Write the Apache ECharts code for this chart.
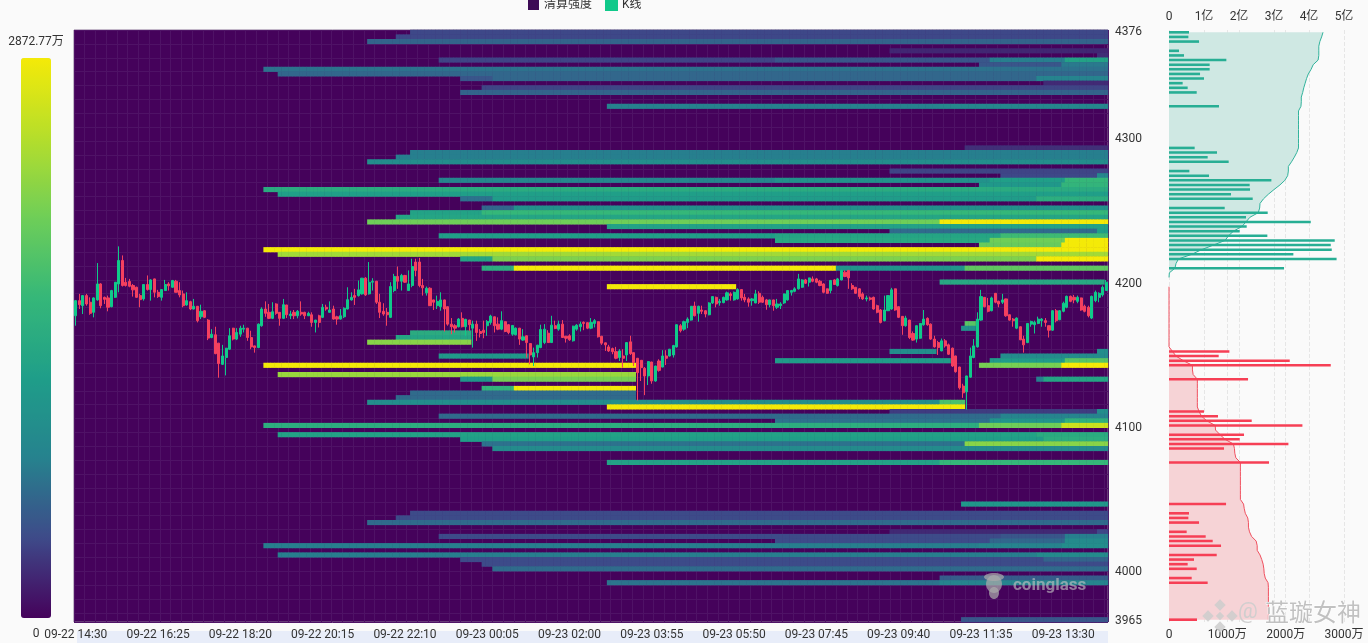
<!DOCTYPE html>
<html>
<head>
<meta charset="utf-8">
<style>html,body{margin:0;padding:0;background:#fafafa}#c{width:1368px;height:643px}</style>
<script src="https://cdn.jsdelivr.net/npm/echarts@6/dist/echarts.min.js"></script>
</head>
<body>
<div id="c"></div>
<script>
// price-ladder (row 0 is the top of the ladder, 128 rows)
const rowCount = 128;
const columnCount = 289;
const priceTicks = [3965, 4000, 4100, 4200, 4300, 4376];

// row, last column, then (first column, value in 万) pairs for each run of that row
const heatBands = [
[0,289,94,400],[1,289,90,400],[2,289,82,600],[4,289,228,210],[5,289,286,250],
[6,289,102,380,196,500,256,800,277,1300],[7,289,253,500,276,760],[8,289,53,700],[9,289,57,620],
[10,289,108,500,117,620,269,850],[11,289,271,230],[12,289,114,380],[13,289,108,600],[16,289,149,820,242,900],
[25,289,249,260],[26,289,94,800],[27,289,90,800],[28,289,82,1000],[30,289,228,380],[31,289,259,400,286,900],
[32,289,102,900,196,1050,256,1250,277,1640],[33,289,253,1150,276,1600],[34,289,53,1450],[35,289,57,1250],
[36,289,108,700,117,1200,269,1500],[38,289,114,620,123,1050],[39,289,94,1300,114,1640],[40,289,90,1350],
[41,289,82,2050,242,2872],[42,289,149,1300],[43,289,228,650,286,1250],[44,289,102,1250,196,1350,259,1700],
[45,289,196,1400,256,2050,277,2872],[46,289,253,2000,276,2872],[47,289,53,2872],[48,289,57,2350],
[49,289,108,1350,117,2150,269,2872],[51,289,114,1500,123,2872,213,1100,249,1950],
[54,288,242,1400],[55,185,149,2872],
[63,252,249,1900],[64,252,248,1050],[65,111,94,1450],[66,111,90,1350],[67,111,82,2200],
[69,241,228,1000],[69,289,286,1000],[70,127,102,1150],[70,289,259,950],
[71,245,196,1200],[71,289,256,1200,277,1900],[72,157,53,2872],[72,289,253,2100,276,2872],
[74,157,57,2300],[75,157,108,1150,117,2100],[75,289,269,800,271,1350],[77,157,114,1600,123,2872],
[78,157,94,650],[79,157,90,650],[80,249,82,1000,242,1800],[81,249,149,2872],
[82,289,228,330,286,1000],[83,289,102,650,259,850],[84,289,196,700,256,1100,277,1550],
[85,289,53,1500,253,2050,276,2600],[87,289,57,1300,269,1450],[88,289,108,1250,271,1500],
[89,289,114,700,249,2200],[90,289,117,950],[93,289,149,1300,242,1640],[102,289,248,1150],
[104,289,94,420],[105,289,90,420],[106,289,82,650],[108,289,228,220,286,400],[109,289,102,420,259,500,277,800],
[110,289,196,420,256,620,277,950],[111,289,53,800,253,850,276,1000],[113,289,57,800,269,950],
[114,289,108,420,271,600],[115,289,114,420],[116,289,117,650],[118,289,242,550],[119,289,149,720,242,850],
[127,289,248,500]
];

// open, close, low, high
const candles = [
[4177.6,4188.1,4170.7,4188.6],[4188.1,4185.3,4182.3,4192.8],[4184.6,4191.6,4178.8,4192],[4191.6,4185.8,4184.6,4192.8],[4187,4179.3,4178.3,4190.4],[4180,4190,4176.5,4190.4],[4188.6,4199.7,4188.1,4214.2],[4199.7,4184.6,4182.8,4200.2],[4190.4,4189,4185.8,4190.9],[4190,4183.5,4180.7,4191.6],
[4183.9,4195.1,4183.5,4195.6],[4190.4,4200.9,4190,4201],[4199.7,4216,4193.9,4225.8],[4216,4198.6,4197.9,4219.5],[4200.9,4198.6,4197.9,4203.9],[4201.4,4198.1,4197.4,4203.2],[4198.6,4195.6,4190.9,4199.7],[4197.4,4190.4,4190,4197.8],[4191.6,4188.8,4183.5,4192.8],[4189.3,4199.3,4188.1,4199.5],
[4199.3,4195.8,4195.1,4205.6],[4195.8,4202.5,4188.1,4203],[4203.2,4193.9,4190.4,4203.4],[4193.9,4190.9,4190,4195.6],[4190.4,4195.8,4188.1,4196],[4195.1,4199.3,4195,4202.5],[4199.7,4198.4,4195.1,4200.9],[4197.4,4202.1,4197,4202.5],[4201.6,4193.9,4193.8,4202.5],[4195.1,4192.1,4190.4,4200.9],
[4192.8,4184.6,4183.5,4195.1],[4185.1,4188.1,4184.6,4193.9],[4187.4,4182.3,4181.5,4188],[4182.3,4184.2,4182,4189.3],[4184.2,4174.2,4173,4184.4],[4176.9,4180.7,4175.3,4185.3],[4181.1,4176.5,4176,4181.5],[4174.6,4162.1,4160.7,4175.3],[4162.5,4164.8,4162,4168.3],[4164.4,4151.3,4150.9,4170],
[4158.6,4144.4,4134.6,4158.8],[4143.9,4149.7,4143.4,4157.4],[4148.6,4155.1,4136.2,4155.3],[4154.4,4163.7,4153.9,4169],[4169,4161.4,4160.5,4169.2],[4161.4,4166,4160.7,4169],[4164.8,4169,4163,4170.7],[4168.3,4169,4166,4171.4],[4169,4162.5,4160.2,4169.2],[4162.5,4156,4154.4,4167.2],
[4156.7,4155.5,4152,4156.9],[4155.5,4171.8,4155.1,4172.3],[4170.7,4182.3,4170,4183.5],[4182.3,4179.3,4176.9,4187.6],[4180,4175.8,4175.3,4185.8],[4175.8,4180.4,4175.3,4187],[4185.8,4179.3,4178.3,4186.3],[4180,4175.8,4170.7,4180.2],[4175.8,4185.3,4175.3,4189.3],[4185.1,4178.3,4176,4185.2],
[4177.6,4178.8,4175.3,4181.1],[4180,4177.6,4175.3,4181.6],[4177.6,4180.7,4175.8,4181.6],[4180,4178.8,4177.6,4187.6],[4180,4177.6,4175.3,4180.4],[4177.6,4179.3,4177.4,4180.4],[4178.3,4173,4170,4180],[4173,4174.6,4166,4174.8],[4177.6,4173,4169.5,4178.3],[4176.5,4183.5,4176,4185.8],
[4183.5,4182.3,4181.1,4185.3],[4180,4181.6,4179.8,4187.6],[4182.3,4175.3,4174.9,4184.6],[4176.9,4175.3,4171.4,4177.6],[4175.3,4177.6,4174.9,4182.3],[4176.9,4182.8,4176,4183.5],[4182.3,4188.8,4182,4197.4],[4188.6,4190.4,4188.1,4193.9],[4191.6,4190.4,4185.1,4196.3],[4191.6,4195.6,4190.9,4202.1],
[4192.8,4203.7,4192.3,4203.9],[4203.7,4192.1,4191.4,4204.4],[4192.8,4200.9,4192.3,4214.9],[4200.9,4201.6,4195.1,4203.7],[4201.6,4187,4185.8,4201.8],[4187,4180,4176,4192.8],[4180.7,4178.8,4177.6,4186.3],[4180,4178.3,4170.7,4183],[4176.5,4197.9,4176,4200.9],[4195.1,4204.9,4193.9,4206.7],
[4204.9,4201.6,4196.3,4211.8],[4201.6,4205.6,4195.1,4206.7],[4205.6,4200.9,4200.5,4206],[4195.1,4199.7,4195,4209.1],[4198.6,4211.8,4197.4,4217.2],[4214.9,4209.1,4205,4217.2],[4214.9,4198.6,4197.4,4217.8],[4198.6,4197,4191.6,4203.2],[4193.5,4196.7,4191.6,4197.9],[4196.7,4184.6,4184.4,4197.4],
[4188.6,4187,4181.6,4188.8],[4184.6,4187.6,4182.3,4191.6],[4183.9,4188.6,4181.1,4193.9],[4188.6,4182.3,4166.7,4188.8],[4183.9,4171.8,4170.7,4184],[4171.8,4170,4164.8,4176],[4170.7,4169,4166,4171.8],[4170,4175.3,4169.5,4176],[4175.8,4170,4169.5,4180],[4170,4175.1,4163.7,4175.5],
[4174.6,4171.4,4167.2,4174.8],[4169,4171.8,4155.5,4174.2],[4171.8,4166,4160.2,4174.2],[4166.7,4165.3,4162.5,4168.3],[4167.6,4166,4162,4174.2],[4170.7,4173.7,4163.7,4174.6],[4173,4177.4,4171.4,4178.3],[4176.9,4170.7,4166,4177],[4171.8,4168.3,4167.6,4176.5],[4168.3,4174.2,4167.6,4180.7],
[4173.5,4166.7,4166.2,4173.7],[4171.4,4166,4164.8,4171.8],[4164.8,4170.9,4163.7,4171],[4164.4,4169,4164,4169.5],[4169,4161.4,4157.4,4169.2],[4160.7,4163,4160.2,4168.3],[4163.7,4159,4148.6,4164],[4158.3,4150.4,4143.9,4158.5],[4149,4152,4142.7,4155.5],[4152,4157.2,4148.6,4157.4],
[4155.5,4168.1,4155.1,4171.4],[4159,4168.3,4157.9,4171.8],[4165.5,4159,4158.8,4167.6],[4159,4171.1,4158.8,4177.6],[4170.7,4168.8,4168.3,4174.2],[4168.3,4171.8,4167.2,4174.2],[4171.8,4162.5,4162.3,4174.6],[4163.4,4162,4159,4163.6],[4163.7,4160.9,4160.2,4164.8],[4160.2,4170.4,4159.7,4170.7],
[4168.3,4171.1,4167.2,4171.8],[4170,4171.8,4166.7,4173.5],[4173,4172.3,4167.6,4173.7],[4172.8,4169,4168.3,4173],[4169,4173,4168.3,4176],[4172.3,4174.2,4169.5,4175.3],[4173.5,4163,4162.5,4173.7],[4163.4,4158.6,4157.4,4163.6],[4158.8,4157.4,4153.2,4159],[4156,4153.2,4152.5,4157.4],
[4154.8,4152.7,4150.9,4155.5],[4152.7,4148.1,4147.4,4156],[4148.6,4153.2,4146.2,4154.4],[4149.7,4148.1,4141.6,4154.4],[4150.4,4159,4146.2,4159.2],[4159.5,4151.3,4150.4,4163.7],[4152,4145.1,4142.7,4152.2],[4148.1,4138.1,4118.8,4148.3],[4146.7,4141.6,4132.3,4146.9],[4141.1,4135.8,4122.5,4142],
[4135.8,4145.8,4129.5,4146],[4145.5,4132.3,4130.4,4145.7],[4132.3,4142.7,4131.8,4142.9],[4146.2,4139.7,4138.8,4147.4],[4142,4149.7,4141.8,4153.7],[4149.7,4148.1,4143.4,4153.7],[4149.7,4154.4,4149.3,4154.6],[4150.4,4156.9,4148.6,4157.4],[4156,4171.4,4155.5,4171.6],[4170.7,4167.2,4166,4171.8],
[4168.3,4173.5,4167.2,4174.2],[4173,4175.3,4169,4176.5],[4174.6,4184.2,4174.2,4184.4],[4184.4,4177.6,4177.2,4187.4],[4179.3,4184.2,4173.5,4184.6],[4181.6,4180.7,4178.8,4184.6],[4181.1,4178.8,4176.5,4181.6],[4178.3,4186.5,4177.9,4187],[4186.5,4190.9,4185.8,4191],[4190.4,4185.8,4183.5,4190.9],
[4186.7,4187.6,4184.6,4189.3],[4186.7,4190.4,4186.3,4190.9],[4188.6,4193.5,4188.1,4194.4],[4192.8,4191.6,4188.1,4193.9],[4188.6,4193.9,4188.1,4194.4],[4189.3,4195.8,4188.8,4196.7],[4195.8,4190,4188.1,4195.9],[4190.4,4188.6,4187,4192.8],[4189.3,4187,4183.9,4190.4],[4188.1,4189.3,4184.6,4190],
[4186.5,4192.8,4186.3,4195.6],[4193.2,4187,4185.8,4194.6],[4190.4,4187,4186.5,4191.6],[4188.6,4185.3,4181.8,4189.3],[4185.3,4188.6,4183.5,4188.8],[4188.6,4184.6,4181.1,4188.8],[4183.5,4185.8,4182.3,4189.3],[4184.6,4185.8,4182.3,4187],[4186.5,4192.8,4185.8,4193],[4188.6,4195.1,4188.1,4195.3],
[4193.9,4195.1,4191.6,4195.6],[4194.6,4196.3,4193.9,4197.4],[4196.3,4203.2,4195.8,4206.7],[4197.4,4202.5,4197,4203],[4202.5,4200.2,4199.7,4203.2],[4200.9,4203.9,4197.9,4204],[4203.2,4201.6,4200.9,4204.9],[4203.2,4200.9,4200.2,4203.9],[4201.6,4198.6,4198.1,4202.5],[4199.7,4193.9,4193.2,4200.2],
[4196.3,4193.2,4192.8,4196.5],[4195.1,4202.1,4193.2,4202.5],[4202.5,4199.3,4199,4203],[4198.6,4203.2,4197.9,4203.9],[4202.5,4209.1,4202.1,4209.5],[4207.9,4204.9,4204.4,4209.1],[4209.1,4203.9,4196.3,4209.3],[4198.6,4196.3,4195.6,4200.2],[4197.4,4193.2,4192.8,4197.6],[4196.3,4190.9,4189.3,4196.7],
[4192.8,4189.3,4188.6,4193.9],[4189.3,4190,4187.6,4191.6],[4190,4189,4188.1,4190.9],[4190.4,4182.3,4181.8,4190.9],[4184.6,4180,4179.3,4185.3],[4181.6,4173,4172.3,4182.3],[4174.2,4181.6,4173.7,4191.6],[4181.1,4191.6,4181,4191.8],[4182.3,4195.6,4181.8,4197],[4196.3,4181.6,4181.1,4196.5],
[4183.9,4176.5,4176,4184],[4177.2,4170.7,4164.4,4177.3],[4170.7,4176,4170,4177.6],[4174.6,4162.5,4161.4,4174.8],[4165.3,4160.7,4160.2,4166.7],[4161.4,4170.7,4159,4170.9],[4162,4172.3,4161.6,4172.5],[4171.4,4175.3,4170.7,4181.6],[4175.8,4171.4,4170.7,4176.5],[4171.8,4161.4,4160.9,4172.3],
[4161.4,4156,4155.5,4163.7],[4159,4155.5,4150.4,4160.2],[4153.2,4160.2,4153,4161.8],[4160.2,4156.7,4155.5,4161.4],[4157.4,4150.9,4150.4,4158.3],[4155.1,4142.7,4142,4155.5],[4149.7,4138.8,4138.1,4149.9],[4142,4127.6,4126.4,4142.2],[4128.8,4124.1,4120.6,4130.4],[4124.8,4135.8,4112.5,4136],
[4135,4149.7,4134.6,4155.5],[4148.6,4156.7,4148.1,4161.4],[4156,4175.3,4155.5,4180],[4174.6,4190.9,4174.2,4195.6],[4190.4,4183.9,4183.5,4190.6],[4184.6,4180.7,4180,4190],[4181.1,4190,4180.7,4190.9],[4193.2,4187,4186.3,4193.4],[4187.6,4185.8,4183.5,4188.1],[4187,4188.6,4185.8,4192.8],
[4189.3,4177.6,4176.9,4189.5],[4178.3,4174.6,4174.2,4178.5],[4175.3,4174.2,4170,4176],[4169,4176,4168.3,4176.5],[4170,4160.9,4160.7,4170.2],[4161.4,4157.4,4152,4163.7],[4159,4172.3,4158.6,4172.5],[4171.8,4173.7,4170,4174.2],[4171.4,4173,4165.3,4174.2],[4172.3,4175.3,4171.8,4177],
[4174.2,4175.3,4170,4176],[4174.2,4173,4170,4176],[4170.7,4167.6,4162.5,4170.9],[4167.6,4181.1,4167.2,4181.6],[4181.1,4174.2,4173,4182.3],[4174.8,4181.1,4174.6,4181.6],[4180.7,4186.3,4180,4187.4],[4183.5,4191.1,4182.8,4191.6],[4191.1,4187.6,4187,4191.6],[4190.4,4188.6,4186.3,4192.1],
[4187.6,4190.4,4186.3,4191.6],[4190,4181.6,4181.1,4190.2],[4184.2,4180.7,4180,4185.3],[4183.5,4177.6,4176.5,4184.6],[4176,4191.1,4175.3,4191.6],[4188.1,4193.9,4187,4195.1],[4190.4,4193.2,4187,4193.9],[4192.1,4197.4,4190.9,4198.6],[4195.1,4200.9,4195,4202.5]
];

// side panel: per-row liquidation amount (万)
const shortRows = [0,1,2,4,5,6,7,8,9,10,11,12,13,16,25,26,27,28,30,31,32,33,34,35,36,38,39,40,41,42,43,44,45,46,47,48,49,51];
const shortAmounts = [343,332,515,171,257,983,697,697,532,600,234,320,475,857,440,823,663,1023,349,686,1755,1383,1389,1063,1435,955,1692,1320,2430,1332,1212,1686,2841,2773,2790,2132,2872.77,1972];
const longRows = [69,70,71,72,75,82,83,84,85,87,88,89,90,93,102,104,105,106,108,109,110,111,113,114,115,116,118,119,127];
const longAmounts = [1035,852,2070,2773,1355,600,840,1418,2287,1286,1212,2047,943,1715,978,343,332,515,303,629,749,892,818,429,320,475,389,663,480];

// side panel: cumulative strength (亿), row 0 downward / row 55 downward
const shortCumulative = [4.40,4.36,4.31,4.28,4.28,4.28,4.26,4.12,4.06,3.98,3.93,3.89,3.85,3.82,3.78,3.78,3.77,3.70,3.70,3.70,3.70,3.70,3.70,3.70,3.70,3.70,3.65,3.58,3.50,3.41,3.41,3.39,3.31,3.17,3.00,2.84,2.70,2.60,2.59,2.55,2.31,2.20,2.08,1.84,1.70,1.60,1.27,0.93,0.65,0.27,0.20,0.17,0.01,0];
const longCumulative = [0,0,0,0,0,0,0,0,0,0,0,0,0,0,0.10,0.20,0.41,0.67,0.67,0.69,0.81,0.81,0.81,0.81,0.81,0.81,0.81,0.86,0.93,1.08,1.32,1.33,1.46,1.60,1.84,1.87,1.88,1.91,2.04,2.04,2.04,2.04,2.04,2.04,2.04,2.04,2.04,2.13,2.15,2.18,2.25,2.27,2.27,2.30,2.36,2.49,2.52,2.52,2.60,2.65,2.69,2.71,2.72,2.75,2.83,2.84,2.84,2.84,2.84,2.84,2.84,2.84,2.84];
const longCumulativeStartRow = 55;

const legendNames = ['清算强度', 'K线'];
const heatMax = 2872.77;
const heatMaxLabel = '2872.77万';
const heatMinLabel = '0';

// ---- derived ----
const pad = n => String(n).padStart(2, '0');
const timeLabels = [];
for (let i = 0, m = 22 * 1440 + 14 * 60 + 30; i < columnCount; i++, m += 5) {
  const d = Math.floor(m / 1440), r = m % 1440;
  timeLabels.push('09-' + pad(d) + ' ' + pad(Math.floor(r / 60)) + ':' + pad(r % 60));
}
const rowNames = Array.from({ length: rowCount }, (_, i) => String(i));
const heatCells = [];
heatBands.forEach(b => {
  const row = b[0], end = b[1];
  for (let k = 2; k < b.length; k += 2) {
    const stop = k + 2 < b.length ? b[k + 2] : end;
    for (let c = b[k]; c < stop; c++) heatCells.push([c, row, b[k + 1]]);
  }
});
const sparse = (rows, vals) => { const a = new Array(rowCount).fill(null); rows.forEach((r, i) => { a[r] = vals[i]; }); return a; };

const font = 'Roboto, "Noto Sans CJK SC", sans-serif';
const textColor = '#333';
const chart = echarts.init(document.getElementById('c'), null, { renderer: 'canvas' });

const sideSplit = { show: true, lineStyle: { color: '#e6e6e6', type: 'dashed', width: 1 } };
const diamond = (x, y, s, o) => ({ type: 'rect', x: x, y: y, rotation: Math.PI / 4, shape: { x: -s / 2, y: -s / 2, width: s, height: s }, style: { fill: 'rgba(205,205,205,' + o + ')' }, z: 50, silent: true });

chart.setOption({
  animation: false,
  backgroundColor: '#fafafa',
  textStyle: { fontFamily: font },
  legend: {
    left: 523, top: -7, itemWidth: 11, itemHeight: 11, itemGap: 13, selectedMode: false,
    textStyle: { fontSize: 12, color: textColor, fontFamily: font },
    data: [
      { name: legendNames[0], icon: 'rect', itemStyle: { color: '#3d0b55' } },
      { name: legendNames[1], icon: 'rect', itemStyle: { color: '#10c98a' } }
    ]
  },
  grid: [
    { left: 74, top: 30, width: 1034, height: 592, show: true, backgroundColor: '#45025b', borderWidth: 1, borderColor: '#8b7297' },
    { left: 1169, top: 30, width: 175, height: 592 }
  ],
  xAxis: [
    { type: 'category', gridIndex: 0, data: timeLabels, boundaryGap: true,
      axisLine: { show: false }, axisTick: { show: false },
      axisLabel: { interval: 22, color: textColor, fontSize: 12, margin: 7, fontFamily: font, hideOverlap: false },
      splitLine: { show: true, interval: 2, lineStyle: { color: '#4f1266', width: 1 } } },
    { type: 'value', gridIndex: 1, position: 'bottom', min: 0, max: 3000, interval: 1000,
      axisLine: { show: false }, axisTick: { show: false }, splitLine: sideSplit,
      axisLabel: { color: textColor, fontSize: 12, margin: 7, fontFamily: font, formatter: v => v === 0 ? '0' : v + '万' } },
    { type: 'value', gridIndex: 1, position: 'top', min: 0, max: 5, interval: 1,
      axisLine: { show: false }, axisTick: { show: false }, splitLine: sideSplit,
      axisLabel: { color: textColor, fontSize: 12, margin: 7, fontFamily: font, formatter: v => v === 0 ? '0' : v + '亿' } }
  ],
  yAxis: [
    { type: 'category', gridIndex: 0, data: rowNames, inverse: true, boundaryGap: true,
      axisLine: { show: false }, axisTick: { show: false }, axisLabel: { show: false },
      splitLine: { show: true, interval: 2, lineStyle: { color: '#4f1266', width: 1 } } },
    { type: 'value', gridIndex: 0, position: 'right', min: priceTicks[0], max: priceTicks[priceTicks.length - 1], scale: true,
      axisLine: { show: false }, axisTick: { show: false }, splitLine: { show: false },
      axisLabel: { customValues: priceTicks, color: textColor, fontSize: 12, margin: 7, fontFamily: font,
        formatter: v => v === priceTicks[0] ? '{low|' + v + '}' : (v === priceTicks[priceTicks.length - 1] ? '{high|' + v + '}' : String(v)),
        rich: {
          low: { color: textColor, fontSize: 12, fontFamily: font, padding: [0, 0, 3, 0] },
          high: { color: textColor, fontSize: 12, fontFamily: font, padding: [4, 0, 0, 0] }
        } } },
    { type: 'category', gridIndex: 1, data: rowNames, inverse: true, boundaryGap: true,
      axisLine: { show: false }, axisTick: { show: false }, axisLabel: { show: false }, splitLine: { show: false } }
  ],
  visualMap: {
    type: 'continuous', seriesIndex: 0, min: 0, max: heatMax, left: 21, top: 58,
    itemWidth: 30, itemHeight: 560, showLabel: false, calculable: false, hoverLink: false, padding: 0,
    inRange: { color: ['#45025b', '#3e4a89', '#26828e', '#1f9e89', '#35b779', '#6ece58', '#b5de2b', '#f4ea08'] }
  },
  series: [
    { name: legendNames[0], type: 'heatmap', xAxisIndex: 0, yAxisIndex: 0, data: heatCells, progressive: 0, silent: true, z: 2 },
    { name: legendNames[1], type: 'candlestick', xAxisIndex: 0, yAxisIndex: 1, data: candles, barWidth: 2.6, silent: true, z: 5, progressive: 0, clip: false,
      itemStyle: { color: '#10c98a', color0: '#f5405f', borderColor: '#10c98a', borderColor0: '#f5405f', borderWidth: 1 } },
    { type: 'line', xAxisIndex: 2, yAxisIndex: 2, symbol: 'none', silent: true, z: 2,
      data: shortCumulative.map((v, i) => [v, i]),
      lineStyle: { color: '#32b39c', width: 1 }, areaStyle: { color: '#cfe8e3', opacity: 1 } },
    { type: 'line', xAxisIndex: 2, yAxisIndex: 2, symbol: 'none', silent: true, z: 2,
      data: longCumulative.map((v, i) => [v, i + longCumulativeStartRow]),
      lineStyle: { color: '#f0505f', width: 1 }, areaStyle: { color: '#f6d3d6', opacity: 1 } },
    { type: 'bar', xAxisIndex: 1, yAxisIndex: 2, data: sparse(shortRows, shortAmounts), barWidth: 2.6, barGap: '-100%', silent: true, z: 4, itemStyle: { color: '#27ae94' } },
    { type: 'bar', xAxisIndex: 1, yAxisIndex: 2, data: sparse(longRows, longAmounts), barWidth: 2.6, barGap: '-100%', silent: true, z: 4, itemStyle: { color: '#f63f55' } }
  ],
  graphic: [
    { type: 'rect', x: 77, y: 631, shape: { width: 1031, height: 12 }, style: { fill: '#e8edf9' }, z: -1, silent: true },
    { type: 'text', x: 36, y: 42, z: 50, silent: true, style: { text: heatMaxLabel, fill: textColor, font: '12px Roboto, "Noto Sans CJK SC"', align: 'center', verticalAlign: 'middle' } },
    { type: 'text', x: 36, y: 634, z: 50, silent: true, style: { text: heatMinLabel, fill: textColor, font: '12px Roboto', align: 'center', verticalAlign: 'middle' } },
    { type: 'text', x: 1013, y: 577, z: 50, silent: true, style: { text: 'coinglass', fill: 'rgba(195,195,195,0.62)', font: 'bold 17px Roboto' } },
    { type: 'ellipse', x: 994, y: 584, shape: { cx: 0, cy: 0, rx: 8, ry: 9 }, style: { fill: 'rgba(170,170,170,0.72)' }, z: 50, silent: true },
    { type: 'ellipse', x: 994, y: 593, shape: { cx: 0, cy: 0, rx: 5, ry: 6 }, style: { fill: 'rgba(170,170,170,0.72)' }, z: 50, silent: true },
    { type: 'ellipse', x: 994, y: 577, shape: { cx: 0, cy: 0, rx: 10, ry: 4 }, style: { fill: 'rgba(170,170,170,0.72)' }, z: 50, silent: true },
    diamond(1220, 605, 8, 0.85), diamond(1208, 616, 8, 0.85), diamond(1232, 616, 8, 0.85), diamond(1220, 627, 8, 0.85), diamond(1220, 616, 6, 0.85),
    { type: 'text', x: 1238, y: 601, z: 50, silent: true, style: { text: '@', fill: 'rgba(205,205,205,0.95)', font: '22px Roboto' } },
    { type: 'text', x: 1265, y: 600, z: 50, silent: true, style: { text: '蓝璇女神', fill: 'rgba(190,190,190,0.95)', stroke: '#ffffff', lineWidth: 1, font: '24px "Noto Sans CJK SC"' } }
  ]
});
</script>
</body>
</html>
